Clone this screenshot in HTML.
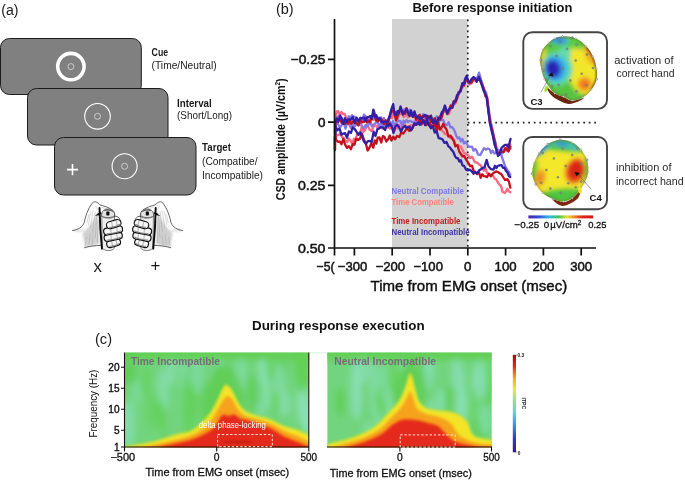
<!DOCTYPE html>
<html><head><meta charset="utf-8"><title>Figure</title>
<style>html,body{margin:0;padding:0;background:#fff;}svg{display:block}</style>
</head><body><svg width="685" height="483" viewBox="0 0 685 483" font-family="Liberation Sans, sans-serif"><defs><filter id="hb" x="-30%" y="-30%" width="160%" height="160%"><feGaussianBlur stdDeviation="9"/></filter></defs>
<g id="hand-left" transform="translate(63.3 195.2) scale(0.128)"><g filter="url(#hb)" opacity="0.7">
<path d="M150 300 C200 250 240 200 270 120 L285 380 C240 400 200 400 170 405Z" fill="#bdbdbd"/>
<ellipse cx="120" cy="275" rx="50" ry="10" fill="#d0d0d0"/>
</g>
<path d="M72 276 C112 272 150 250 163 215 C172 170 190 108 226 62 C240 44 266 50 287 76 C312 84 352 90 384 118 C400 134 406 150 400 168" fill="none" stroke="#3a3a3a" stroke-width="6" stroke-linecap="round"/>
<path d="M166 410 C200 398 250 394 292 392" fill="none" stroke="#3a3a3a" stroke-width="6" stroke-linecap="round"/>
<path d="M200 150 L185 215 M215 130 L196 230 M232 120 L212 250 M248 130 L230 290 M262 150 L250 330 M272 200 L266 370 M210 300 L200 385 M232 310 L226 388 M180 330 L172 395 M252 85 L268 110 M300 95 L340 105" fill="none" stroke="#9a9a9a" stroke-width="3" stroke-linecap="round"/>
<path d="M300 140 L305 415 C330 440 380 438 398 415 L400 150 Z" fill="#efefef" stroke="#3a3a3a" stroke-width="5"/>
<path d="M272 150 L290 140 M283 100 C284 180 290 300 302 418" fill="none" stroke="#0a0a0a" stroke-width="15" stroke-linecap="round"/>
<path d="M255 158 L282 148" fill="none" stroke="#0a0a0a" stroke-width="7" stroke-linecap="round"/>
<path d="M300 150 C300 120 330 105 360 108 C390 112 402 130 400 160 C380 178 330 180 300 165Z" fill="#e2e2e2" stroke="#2a2a2a" stroke-width="5"/>
<path d="M310 170 C340 185 380 184 400 168" fill="none" stroke="#555" stroke-width="5"/>
<rect x="336" y="128" width="24" height="30" rx="5" fill="#0a0a0a"/>
<path d="M322 120 C345 112 372 115 388 128" fill="none" stroke="#111" stroke-width="6"/>
<g transform="rotate(-16 393.0 374.5)"><rect x="338" y="347" width="110" height="55" rx="27.5" ry="27.5" fill="#f6f6f6" stroke="#111" stroke-width="9"/><path d="M382.0 355 L378.7 394 M417.2 355 L415.0 394" stroke="#8a8a8a" stroke-width="4.5"/><path d="M354.5 391 C382.0 397 415.0 397 437.0 389" stroke="#6a6a6a" stroke-width="9" fill="none" opacity="0.75"/></g>
<g transform="rotate(-12 390.0 325.0)"><rect x="318" y="298" width="144" height="54" rx="27.0" ry="27.0" fill="#f6f6f6" stroke="#111" stroke-width="9"/><path d="M375.6 306 L371.28 344 M421.68 306 L418.8 344" stroke="#8a8a8a" stroke-width="4.5"/><path d="M339.6 341 C375.6 347 418.8 347 447.6 339" stroke="#6a6a6a" stroke-width="9" fill="none" opacity="0.75"/></g>
<g transform="rotate(-11 389.0 275.0)"><rect x="314" y="248" width="150" height="54" rx="27.0" ry="27.0" fill="#f6f6f6" stroke="#111" stroke-width="9"/><path d="M374.0 256 L369.5 294 M422.0 256 L419.0 294" stroke="#8a8a8a" stroke-width="4.5"/><path d="M336.5 291 C374.0 297 419.0 297 449.0 289" stroke="#6a6a6a" stroke-width="9" fill="none" opacity="0.75"/></g>
<g transform="rotate(-16 394.0 226.0)"><rect x="336" y="198" width="116" height="56" rx="28.0" ry="28.0" fill="#f6f6f6" stroke="#111" stroke-width="9"/><path d="M382.4 206 L378.92 246 M419.52 206 L417.2 246" stroke="#8a8a8a" stroke-width="4.5"/><path d="M353.4 243 C382.4 249 417.2 249 440.4 241" stroke="#6a6a6a" stroke-width="9" fill="none" opacity="0.75"/></g>
<path d="M400 165 C420 160 440 175 446 200" fill="none" stroke="#222" stroke-width="6" stroke-linecap="round"/></g>
<g id="hand-right" transform="translate(191.9 195.2) scale(-0.128 0.128)"><g filter="url(#hb)" opacity="0.7">
<path d="M150 300 C200 250 240 200 270 120 L285 380 C240 400 200 400 170 405Z" fill="#bdbdbd"/>
<ellipse cx="120" cy="275" rx="50" ry="10" fill="#d0d0d0"/>
</g>
<path d="M72 276 C112 272 150 250 163 215 C172 170 190 108 226 62 C240 44 266 50 287 76 C312 84 352 90 384 118 C400 134 406 150 400 168" fill="none" stroke="#3a3a3a" stroke-width="6" stroke-linecap="round"/>
<path d="M166 410 C200 398 250 394 292 392" fill="none" stroke="#3a3a3a" stroke-width="6" stroke-linecap="round"/>
<path d="M200 150 L185 215 M215 130 L196 230 M232 120 L212 250 M248 130 L230 290 M262 150 L250 330 M272 200 L266 370 M210 300 L200 385 M232 310 L226 388 M180 330 L172 395 M252 85 L268 110 M300 95 L340 105" fill="none" stroke="#9a9a9a" stroke-width="3" stroke-linecap="round"/>
<path d="M300 140 L305 415 C330 440 380 438 398 415 L400 150 Z" fill="#efefef" stroke="#3a3a3a" stroke-width="5"/>
<path d="M272 150 L290 140 M283 100 C284 180 290 300 302 418" fill="none" stroke="#0a0a0a" stroke-width="15" stroke-linecap="round"/>
<path d="M255 158 L282 148" fill="none" stroke="#0a0a0a" stroke-width="7" stroke-linecap="round"/>
<path d="M300 150 C300 120 330 105 360 108 C390 112 402 130 400 160 C380 178 330 180 300 165Z" fill="#e2e2e2" stroke="#2a2a2a" stroke-width="5"/>
<path d="M310 170 C340 185 380 184 400 168" fill="none" stroke="#555" stroke-width="5"/>
<rect x="336" y="128" width="24" height="30" rx="5" fill="#0a0a0a"/>
<path d="M322 120 C345 112 372 115 388 128" fill="none" stroke="#111" stroke-width="6"/>
<g transform="rotate(-16 393.0 374.5)"><rect x="338" y="347" width="110" height="55" rx="27.5" ry="27.5" fill="#f6f6f6" stroke="#111" stroke-width="9"/><path d="M382.0 355 L378.7 394 M417.2 355 L415.0 394" stroke="#8a8a8a" stroke-width="4.5"/><path d="M354.5 391 C382.0 397 415.0 397 437.0 389" stroke="#6a6a6a" stroke-width="9" fill="none" opacity="0.75"/></g>
<g transform="rotate(-12 390.0 325.0)"><rect x="318" y="298" width="144" height="54" rx="27.0" ry="27.0" fill="#f6f6f6" stroke="#111" stroke-width="9"/><path d="M375.6 306 L371.28 344 M421.68 306 L418.8 344" stroke="#8a8a8a" stroke-width="4.5"/><path d="M339.6 341 C375.6 347 418.8 347 447.6 339" stroke="#6a6a6a" stroke-width="9" fill="none" opacity="0.75"/></g>
<g transform="rotate(-11 389.0 275.0)"><rect x="314" y="248" width="150" height="54" rx="27.0" ry="27.0" fill="#f6f6f6" stroke="#111" stroke-width="9"/><path d="M374.0 256 L369.5 294 M422.0 256 L419.0 294" stroke="#8a8a8a" stroke-width="4.5"/><path d="M336.5 291 C374.0 297 419.0 297 449.0 289" stroke="#6a6a6a" stroke-width="9" fill="none" opacity="0.75"/></g>
<g transform="rotate(-16 394.0 226.0)"><rect x="336" y="198" width="116" height="56" rx="28.0" ry="28.0" fill="#f6f6f6" stroke="#111" stroke-width="9"/><path d="M382.4 206 L378.92 246 M419.52 206 L417.2 246" stroke="#8a8a8a" stroke-width="4.5"/><path d="M353.4 243 C382.4 249 417.2 249 440.4 241" stroke="#6a6a6a" stroke-width="9" fill="none" opacity="0.75"/></g>
<path d="M400 165 C420 160 440 175 446 200" fill="none" stroke="#222" stroke-width="6" stroke-linecap="round"/></g>
<g id="panel-a">
<text x="1.2" y="14.8" font-size="14" font-weight="normal" fill="#1a1a1a" text-anchor="start" textLength="17.3" lengthAdjust="spacingAndGlyphs" >(a)</text>
<rect x="0.5" y="38.5" width="140.8" height="56" rx="9" ry="9" fill="#808080" stroke="#1c1c1c" stroke-width="1"/>
<rect x="27.5" y="88.5" width="140.5" height="56.5" rx="9" ry="9" fill="#808080" stroke="#1c1c1c" stroke-width="1"/>
<rect x="54.5" y="137.5" width="141.5" height="57.5" rx="9" ry="9" fill="#808080" stroke="#1c1c1c" stroke-width="1"/>
<circle cx="70.9" cy="66.6" r="13.2" fill="none" stroke="#fff" stroke-width="3.6"/>
<circle cx="70.9" cy="66.6" r="3" fill="none" stroke="#e8e8e8" stroke-width="0.7"/>
<circle cx="97.5" cy="116.3" r="12.8" fill="none" stroke="#fff" stroke-width="1.1"/>
<circle cx="97.5" cy="116.3" r="3" fill="none" stroke="#e8e8e8" stroke-width="0.7"/>
<circle cx="124.6" cy="166.3" r="12.5" fill="none" stroke="#fff" stroke-width="1.1"/>
<circle cx="124.6" cy="166.3" r="3" fill="none" stroke="#e8e8e8" stroke-width="0.7"/>
<path d="M67 169.6H78M72.5 164V175.2" stroke="#fff" stroke-width="1.6" fill="none"/>
<text x="151.6" y="56" font-size="10.5" font-weight="bold" fill="#1a1a1a" text-anchor="start" textLength="16.5" lengthAdjust="spacingAndGlyphs" >Cue</text>
<text x="151.6" y="68.7" font-size="10.3" font-weight="normal" fill="#222" text-anchor="start" textLength="65" lengthAdjust="spacingAndGlyphs" >(Time/Neutral)</text>
<text x="177" y="106.5" font-size="10.5" font-weight="bold" fill="#1a1a1a" text-anchor="start" textLength="34.7" lengthAdjust="spacingAndGlyphs" >Interval</text>
<text x="177" y="119.2" font-size="10.3" font-weight="normal" fill="#222" text-anchor="start" textLength="55" lengthAdjust="spacingAndGlyphs" >(Short/Long)</text>
<text x="202" y="151.2" font-size="10.5" font-weight="bold" fill="#1a1a1a" text-anchor="start" textLength="29" lengthAdjust="spacingAndGlyphs" >Target</text>
<text x="202" y="164.6" font-size="10.3" font-weight="normal" fill="#222" text-anchor="start" textLength="55.6" lengthAdjust="spacingAndGlyphs" >(Compatibe/</text>
<text x="202" y="178.5" font-size="10.3" font-weight="normal" fill="#222" text-anchor="start" textLength="61" lengthAdjust="spacingAndGlyphs" >Incompatible)</text>
<text x="93.4" y="271.9" font-size="17.3" font-weight="normal" fill="#1a1a1a" text-anchor="start" textLength="8.4" lengthAdjust="spacingAndGlyphs" >x</text>
<text x="150.4" y="271.3" font-size="17" font-weight="normal" fill="#1a1a1a" text-anchor="start" textLength="9.9" lengthAdjust="spacingAndGlyphs" >+</text>
</g>
<g id="panel-b">
<text x="276" y="14.3" font-size="14" font-weight="normal" fill="#1a1a1a" text-anchor="start" textLength="17.7" lengthAdjust="spacingAndGlyphs" >(b)</text>
<text x="412.4" y="12.3" font-size="12.3" font-weight="bold" fill="#111" text-anchor="start" textLength="160" lengthAdjust="spacingAndGlyphs" >Before response initiation</text>
<rect x="392" y="19" width="75.7" height="229" fill="#d2d2d2"/>
<path d="M467.8 19.5V248" stroke="#222" stroke-width="1.7" stroke-dasharray="1.7 3.8" fill="none"/>
<path d="M467.8 122.6H596" stroke="#222" stroke-width="1.7" stroke-dasharray="1.7 3.8" fill="none"/>
<g fill="none" stroke-width="2.3" stroke-linejoin="round" stroke-linecap="round">
<path d="M335.0 140.9 L336.8 135.0 L338.5 135.2 L340.2 133.5 L342.0 137.3 L343.7 137.8 L345.4 140.6 L347.1 142.2 L348.8 138.5 L350.5 140.4 L352.2 144.2 L353.9 138.7 L355.6 140.5 L357.3 133.1 L358.8 134.6 L360.4 132.4 L361.9 125.8 L363.5 131.8 L365.1 130.2 L366.6 124.9 L368.2 126.5 L369.8 129.9 L371.7 131.1 L373.6 126.1 L375.5 125.3 L377.3 127.3 L379.2 124.8 L381.0 127.4 L382.5 128.5 L384.0 128.8 L385.5 127.1 L387.0 127.6 L388.5 127.2 L390.0 128.6 L391.5 126.8 L393.0 125.1 L394.5 130.8 L396.0 127.1 L397.5 128.3 L399.0 124.6 L400.5 130.4 L402.0 127.5 L403.5 122.6 L405.0 124.6 L406.5 126.9 L408.0 126.5 L409.5 128.5 L411.0 124.8 L412.8 127.5 L414.5 124.5 L416.2 121.5 L418.0 123.0 L419.8 124.1 L421.5 123.3 L423.2 120.8 L425.0 121.7 L426.5 118.2 L428.0 121.1 L429.5 124.8 L431.0 121.9 L432.9 122.1 L434.8 125.8 L436.7 127.2 L438.4 128.4 L440.0 128.2 L441.7 130.3 L443.3 131.7 L445.0 134.2 L446.8 134.4 L448.7 135.8 L450.5 138.0 L452.0 137.2 L453.5 139.1 L455.0 143.3 L456.4 145.3 L457.9 145.0 L459.3 146.1 L460.9 146.7 L462.4 149.9 L464.0 153.0 L466.1 153.9 L468.1 155.4 L470.1 158.1 L472.0 156.6 L473.6 159.8 L475.2 162.4 L477.1 162.5 L479.0 164.4 L480.6 165.2 L482.2 168.1 L483.8 170.7 L485.4 167.8 L487.0 173.2 L488.9 173.4 L490.8 175.0 L492.7 175.4 L494.6 178.5 L496.5 179.8 L498.1 182.9 L499.8 184.9 L501.1 186.0 L502.5 191.9 L505.0 193.0 L507.5 188.8 L508.9 191.5 L510.3 192.3" stroke="#ff6680"/>
<path d="M335.0 128.2 L335.5 118.1 L336.8 111.3 L338.3 111.1 L339.9 114.9 L341.4 111.9 L343.1 114.2 L344.8 114.0 L346.4 118.4 L348.0 119.5 L350.0 120.4 L352.0 118.6 L353.5 120.9 L355.0 119.7 L356.5 122.0 L358.0 122.9 L359.5 122.6 L361.0 120.2 L362.5 120.4 L364.0 119.5 L365.5 117.5 L367.0 117.0 L368.5 119.1 L370.0 116.7 L371.7 117.2 L373.3 120.1 L375.0 116.5 L376.7 118.9 L378.3 117.7 L380.0 118.2 L381.5 120.5 L383.0 118.7 L384.5 121.7 L386.0 124.2 L388.0 119.9 L390.0 115.7 L391.8 118.2 L393.5 113.2 L396.0 119.3 L397.5 118.4 L399.0 115.2 L400.5 113.7 L402.0 111.3 L403.5 117.0 L405.0 116.2 L406.5 111.6 L408.0 117.4 L409.5 116.4 L411.0 115.5 L412.8 116.8 L414.5 116.9 L416.2 120.4 L418.0 117.3 L419.8 120.7 L421.5 116.9 L423.2 121.8 L425.0 121.0 L426.5 118.5 L428.0 120.1 L429.5 122.4 L431.0 120.8 L432.9 120.4 L434.8 119.5 L436.7 121.3 L438.4 122.5 L440.0 118.1 L441.6 118.6 L443.3 111.1 L444.9 111.2 L447.3 113.6 L449.0 114.1 L450.7 108.8 L452.3 106.6 L453.8 104.9 L455.4 103.6 L457.0 98.7 L458.6 93.1 L460.5 89.4 L462.4 87.3 L463.8 86.2 L465.3 81.8 L466.7 77.1 L468.4 83.4 L470.0 84.4 L471.8 83.0 L473.5 77.4 L475.0 80.9 L476.5 77.9 L479.0 79.1 L480.5 79.8 L482.0 83.2 L484.5 91.7 L486.1 92.5 L487.6 99.6 L489.1 111.8 L490.5 120.7 L492.1 128.7 L493.8 138.7 L495.3 142.3 L496.8 150.1 L499.0 153.9 L500.5 154.0 L502.0 150.7 L503.5 152.0 L505.0 148.1 L506.5 150.8 L508.0 144.5 L510.5 144.5" stroke="#ff6680"/>
<path d="M335.0 129.9 L335.7 123.5 L337.5 123.4 L339.2 126.1 L341.0 126.6 L342.5 122.8 L344.0 123.3 L345.5 128.7 L347.0 123.3 L348.9 123.8 L350.9 127.9 L352.8 122.4 L354.7 126.4 L356.6 123.4 L358.5 125.7 L360.3 122.4 L362.2 127.1 L364.0 128.1 L365.5 125.0 L367.0 126.5 L368.5 124.9 L370.0 120.4 L371.8 126.4 L373.7 124.2 L375.5 123.2 L377.4 121.3 L379.3 127.0 L381.2 122.5 L383.1 125.4 L385.1 126.0 L387.0 124.9 L388.5 126.1 L390.0 121.6 L391.5 124.9 L393.0 121.0 L394.5 125.5 L396.0 124.3 L397.5 119.6 L399.0 121.3 L400.5 121.1 L402.0 125.8 L403.5 120.6 L405.0 122.7 L406.5 120.0 L408.0 122.2 L409.5 121.0 L411.0 121.2 L412.8 122.3 L414.5 121.4 L416.2 123.2 L418.0 120.6 L419.8 122.5 L421.5 121.2 L423.2 122.2 L425.0 119.4 L426.5 116.6 L428.0 122.1 L429.5 121.4 L431.0 121.2 L432.9 118.8 L434.8 120.1 L436.7 116.2 L438.4 122.2 L440.0 119.9 L441.7 120.2 L443.3 120.1 L445.0 124.5 L446.8 125.2 L448.7 122.3 L450.5 127.4 L452.0 127.0 L453.5 128.8 L455.0 131.9 L456.4 136.2 L457.9 138.5 L459.3 137.3 L460.9 141.5 L462.4 138.9 L464.0 143.5 L466.1 141.9 L468.1 146.0 L470.1 146.9 L472.0 146.7 L473.6 150.7 L475.2 148.9 L476.6 150.7 L478.0 154.7 L480.4 155.1 L482.2 151.3 L484.0 148.2 L486.0 149.7 L488.0 148.5 L489.6 149.2 L491.1 153.1 L492.7 150.7 L494.6 153.6 L496.5 152.1 L498.1 149.8 L499.8 150.2 L501.1 154.2 L502.5 158.6 L505.0 166.2 L507.5 170.2 L508.9 171.9 L510.3 174.7" stroke="#8478e6"/>
<path d="M335.0 126.9 L335.5 118.9 L337.0 117.9 L338.5 116.0 L340.0 115.4 L341.8 118.0 L343.5 121.3 L345.2 120.0 L347.0 120.5 L348.7 116.1 L350.3 118.5 L352.0 115.3 L353.5 116.2 L355.0 116.8 L356.5 118.6 L358.0 124.3 L359.5 121.4 L361.0 120.7 L362.5 119.6 L364.0 114.5 L365.5 116.3 L367.0 118.0 L368.5 118.3 L370.0 119.1 L372.0 117.6 L374.0 110.7 L376.0 117.6 L378.0 118.8 L379.5 118.6 L381.0 117.3 L382.5 120.6 L384.0 118.1 L385.7 123.7 L387.3 120.6 L389.0 117.9 L391.1 112.2 L393.2 112.1 L394.6 112.2 L396.0 118.7 L397.5 115.4 L399.0 111.0 L400.5 108.5 L402.0 110.5 L403.5 109.7 L405.0 108.9 L406.5 111.0 L408.0 114.8 L409.5 109.6 L411.0 111.8 L412.8 115.9 L414.5 113.2 L416.2 116.2 L418.0 115.6 L419.8 115.4 L421.5 120.4 L423.2 114.1 L425.0 117.7 L426.5 115.6 L428.0 119.2 L429.5 116.0 L431.0 117.5 L432.9 120.8 L434.8 118.3 L436.7 121.8 L438.4 122.3 L440.0 116.1 L441.6 113.7 L443.3 110.6 L444.9 109.4 L447.3 114.2 L449.0 109.6 L450.7 107.1 L452.3 104.4 L453.8 104.0 L455.4 100.0 L457.0 98.9 L458.6 94.4 L460.5 91.2 L462.4 86.6 L463.8 85.4 L465.3 78.4 L466.7 78.2 L468.4 82.9 L470.0 83.6 L471.8 80.0 L473.5 79.9 L475.0 78.5 L476.5 80.3 L479.0 72.6 L481.5 81.1 L484.0 89.0 L485.5 92.0 L487.0 97.9 L488.6 111.4 L490.2 119.9 L491.9 126.8 L493.5 134.6 L495.0 140.5 L496.5 148.4 L498.5 151.1 L500.0 150.9 L501.5 149.5 L503.0 152.8 L504.5 149.1 L507.0 150.1 L508.8 149.0 L510.5 148.6" stroke="#8478e6"/>
<path d="M335.0 150.0 L334.8 137.1 L336.4 140.2 L338.1 141.9 L339.8 141.5 L341.4 144.3 L343.3 138.9 L345.1 144.6 L347.0 147.8 L348.9 146.1 L350.9 149.2 L352.8 144.1 L354.5 144.6 L356.2 138.6 L358.1 140.1 L360.0 138.5 L361.9 133.6 L363.8 139.4 L365.7 142.7 L367.6 150.5 L369.5 147.6 L371.4 143.2 L373.3 147.7 L374.8 140.4 L376.3 143.6 L377.8 137.6 L379.5 137.3 L381.2 142.6 L382.9 136.1 L384.6 137.1 L386.3 141.6 L388.1 139.3 L389.8 135.5 L391.5 140.6 L393.3 136.8 L395.2 139.2 L397.0 135.9 L399.3 137.1 L401.3 132.4 L403.2 133.6 L405.2 130.9 L407.1 128.3 L409.1 130.8 L411.0 130.2 L412.5 127.8 L414.0 124.5 L416.0 124.3 L418.0 123.9 L419.8 119.2 L421.5 124.6 L423.2 120.6 L425.0 121.1 L426.5 125.1 L428.0 122.8 L429.5 123.2 L431.0 125.1 L432.9 127.3 L434.8 123.4 L436.7 131.8 L438.4 123.2 L440.0 129.5 L441.6 127.6 L443.3 123.7 L444.9 127.3 L446.6 129.6 L448.4 136.5 L450.5 135.6 L452.1 138.5 L453.8 140.9 L455.4 146.3 L457.4 145.2 L459.3 151.8 L460.9 154.0 L462.4 156.3 L464.0 155.9 L466.1 159.4 L468.1 162.7 L470.1 166.1 L472.0 165.7 L473.6 170.9 L475.2 172.1 L477.1 174.1 L479.0 172.3 L480.6 177.8 L482.2 174.3 L483.8 176.1 L485.4 176.3 L487.0 177.1 L488.9 173.9 L490.8 176.4 L492.7 173.6 L494.6 172.3 L496.5 171.4 L498.1 172.3 L499.8 173.4 L501.1 173.8 L502.5 176.0 L505.0 180.0 L507.5 179.2 L508.9 181.8 L510.3 187.6" stroke="#c4101c"/>
<path d="M335.0 150.1 L335.4 122.1 L336.9 121.5 L338.5 119.7 L340.0 118.0 L341.7 123.2 L343.3 121.0 L345.0 123.9 L346.6 120.5 L348.1 123.8 L349.7 119.3 L351.2 123.8 L352.8 121.9 L354.7 121.2 L356.6 123.5 L358.5 125.1 L360.3 120.3 L362.2 122.3 L364.0 121.8 L365.5 117.9 L367.0 122.6 L368.5 120.6 L370.0 122.2 L372.0 116.3 L374.0 113.6 L376.0 120.6 L378.0 121.4 L379.5 120.0 L381.0 118.9 L382.5 120.8 L384.0 124.3 L385.7 120.3 L387.3 124.5 L389.0 119.7 L391.1 112.5 L393.2 110.5 L394.6 111.7 L396.0 120.3 L397.5 116.3 L399.0 111.3 L400.5 110.1 L402.0 110.7 L403.5 112.1 L405.0 113.8 L406.5 108.1 L408.0 113.0 L409.5 114.7 L411.0 113.5 L412.8 116.5 L414.5 113.0 L416.2 119.8 L418.0 116.3 L419.8 114.8 L421.5 119.2 L423.2 116.0 L425.0 116.4 L426.5 118.5 L428.0 116.0 L429.5 117.4 L431.0 121.8 L432.9 121.0 L434.8 118.2 L436.7 125.8 L438.4 117.3 L440.0 119.8 L441.6 117.2 L443.3 111.6 L444.9 106.6 L447.3 113.7 L449.0 110.1 L450.7 105.5 L452.3 107.9 L453.8 101.1 L455.4 102.3 L457.0 98.5 L458.6 92.3 L460.5 91.5 L462.4 83.8 L463.8 85.5 L465.3 81.6 L466.7 78.5 L468.4 82.3 L470.0 82.9 L471.8 82.2 L473.5 78.8 L475.2 78.9 L477.0 79.9 L479.5 78.8 L481.5 83.4 L484.0 89.5 L485.5 96.4 L487.0 97.7 L488.5 111.0 L490.0 123.5 L491.6 128.1 L493.3 135.5 L494.8 141.9 L496.3 149.6 L498.3 154.3 L499.9 152.7 L501.5 152.0 L504.0 151.7 L505.4 148.1 L506.8 149.0 L508.5 151.5 L510.5 146.6" stroke="#c4101c"/>
<path d="M335.0 139.9 L335.7 126.9 L337.6 130.3 L339.5 128.3 L341.4 134.7 L343.3 133.6 L345.1 133.2 L347.0 137.7 L348.9 131.4 L350.9 132.9 L352.8 127.3 L354.7 129.0 L356.6 131.8 L358.5 134.8 L360.3 132.1 L362.2 136.8 L364.0 141.6 L365.9 143.7 L367.9 141.1 L369.8 141.0 L371.7 142.1 L373.6 131.7 L375.5 136.0 L377.4 129.1 L379.3 128.4 L381.2 126.9 L383.1 127.6 L385.1 130.0 L387.0 124.2 L388.5 126.2 L390.0 123.6 L391.8 126.7 L393.5 133.0 L395.2 126.6 L397.0 124.8 L399.0 127.1 L401.0 131.6 L403.0 127.6 L405.0 126.0 L406.5 128.1 L408.0 127.0 L409.5 126.5 L411.0 130.3 L412.8 127.4 L414.5 123.3 L416.2 124.9 L418.0 122.4 L419.8 124.8 L421.5 122.9 L423.2 120.1 L425.0 125.2 L427.0 119.6 L428.9 125.2 L430.9 128.2 L432.8 126.4 L434.8 132.6 L436.7 131.4 L438.7 138.2 L440.6 138.5 L442.6 139.6 L444.5 142.9 L446.5 142.0 L448.4 146.4 L450.1 147.7 L451.9 150.3 L453.4 152.0 L455.0 156.1 L456.4 158.1 L457.9 158.1 L459.3 161.5 L460.9 160.2 L462.4 165.3 L464.0 165.8 L466.1 169.6 L468.1 170.4 L470.1 169.7 L472.0 171.8 L473.6 173.7 L475.2 171.8 L477.1 173.3 L479.0 170.6 L480.6 169.6 L482.2 168.0 L484.5 167.4 L486.6 159.8 L488.5 166.5 L491.0 169.2 L493.5 169.6 L494.9 165.8 L496.3 168.0 L497.6 166.0 L499.0 165.5 L501.5 165.1 L503.0 167.8 L504.5 167.8 L506.0 171.0 L507.5 172.4 L508.9 176.0 L510.3 177.1" stroke="#3020a6"/>
<path d="M335.0 133.9 L335.3 122.2 L336.9 118.4 L338.4 122.0 L340.0 115.7 L341.7 118.8 L343.3 123.9 L345.0 118.1 L346.6 122.3 L348.1 119.5 L349.7 119.7 L351.2 119.4 L352.8 116.9 L354.7 122.9 L356.6 117.7 L358.5 121.4 L360.3 117.8 L362.2 118.6 L364.0 117.6 L365.7 121.2 L367.3 117.1 L369.0 116.8 L370.4 116.1 L371.9 118.9 L373.3 109.6 L374.8 116.8 L376.3 115.2 L377.8 119.4 L379.7 117.9 L381.6 122.3 L383.5 121.6 L385.4 121.8 L387.3 121.8 L389.2 117.9 L391.2 109.8 L393.2 104.1 L394.6 114.9 L396.0 115.0 L397.5 111.1 L399.0 113.3 L400.5 106.4 L402.8 114.6 L405.2 111.2 L406.6 109.0 L408.0 112.5 L409.5 115.9 L411.0 110.3 L412.8 116.7 L414.5 111.4 L416.2 117.5 L418.0 116.8 L419.8 119.1 L421.5 118.1 L423.2 116.4 L425.0 115.0 L426.5 115.5 L428.0 118.4 L429.5 118.0 L431.0 115.6 L432.9 123.3 L434.8 120.4 L436.7 124.1 L438.4 118.5 L440.0 118.4 L441.6 112.8 L443.3 110.5 L444.9 105.5 L447.3 113.4 L449.0 109.5 L450.7 108.1 L452.4 107.3 L453.9 101.7 L455.4 101.0 L457.0 95.2 L458.6 93.4 L460.5 90.5 L462.4 83.2 L463.8 84.1 L465.3 78.7 L466.7 75.7 L468.4 81.6 L470.0 81.5 L471.8 78.7 L473.5 77.0 L475.0 78.4 L476.5 81.9 L479.0 76.8 L481.0 82.7 L483.5 90.4 L485.1 93.3 L486.6 97.1 L488.1 109.1 L489.7 121.2 L491.4 130.1 L493.0 136.3 L494.5 144.4 L496.0 148.7 L498.0 155.9 L499.8 154.2 L501.5 147.8 L504.0 145.6 L505.4 144.9 L506.8 144.8 L508.5 147.3 L510.5 138.9" stroke="#3020a6"/>
</g>
<path d="M334.5 19V255.5M328 248H596" stroke="#111" stroke-width="1.7" fill="none"/>
<path d="M328 59.4H334.5M328 122.2H334.5M328 185.3H334.5M354.4 248V255.5M392.2 248V255.5M430 248V255.5M467.8 248V255.5M505.6 248V255.5M543.4 248V255.5M581.2 248V255.5" stroke="#111" stroke-width="1.7" fill="none"/>
<text x="325.4" y="64.1" font-size="13.3" font-weight="normal" fill="#111" text-anchor="end" textLength="34.7" lengthAdjust="spacingAndGlyphs" stroke="#111" stroke-width="0.5">−0.25</text>
<text x="325.4" y="126.9" font-size="13.3" font-weight="normal" fill="#111" text-anchor="end" textLength="7.5" lengthAdjust="spacingAndGlyphs" stroke="#111" stroke-width="0.5">0</text>
<text x="325.4" y="190.0" font-size="13.3" font-weight="normal" fill="#111" text-anchor="end" textLength="27.5" lengthAdjust="spacingAndGlyphs" stroke="#111" stroke-width="0.5">0.25</text>
<text x="325.4" y="253.0" font-size="13.3" font-weight="normal" fill="#111" text-anchor="end" textLength="27.5" lengthAdjust="spacingAndGlyphs" stroke="#111" stroke-width="0.5">0.50</text>
<text x="316.5" y="270.8" font-size="13.3" font-weight="normal" fill="#111" text-anchor="start" textLength="18" lengthAdjust="spacingAndGlyphs" stroke="#111" stroke-width="0.5">−5(</text>
<text x="352.59999999999997" y="270.8" font-size="13.3" font-weight="normal" fill="#111" text-anchor="middle" textLength="29.5" lengthAdjust="spacingAndGlyphs" stroke="#111" stroke-width="0.5">−300</text>
<text x="390.4" y="270.8" font-size="13.3" font-weight="normal" fill="#111" text-anchor="middle" textLength="29.5" lengthAdjust="spacingAndGlyphs" stroke="#111" stroke-width="0.5">−200</text>
<text x="428.2" y="270.8" font-size="13.3" font-weight="normal" fill="#111" text-anchor="middle" textLength="29.5" lengthAdjust="spacingAndGlyphs" stroke="#111" stroke-width="0.5">−100</text>
<text x="467.8" y="270.8" font-size="13.3" font-weight="normal" fill="#111" text-anchor="middle" textLength="7.4" lengthAdjust="spacingAndGlyphs" stroke="#111" stroke-width="0.5">0</text>
<text x="505.6" y="270.8" font-size="13.3" font-weight="normal" fill="#111" text-anchor="middle" textLength="22" lengthAdjust="spacingAndGlyphs" stroke="#111" stroke-width="0.5">100</text>
<text x="543.4" y="270.8" font-size="13.3" font-weight="normal" fill="#111" text-anchor="middle" textLength="22" lengthAdjust="spacingAndGlyphs" stroke="#111" stroke-width="0.5">200</text>
<text x="581.2" y="270.8" font-size="13.3" font-weight="normal" fill="#111" text-anchor="middle" textLength="22" lengthAdjust="spacingAndGlyphs" stroke="#111" stroke-width="0.5">300</text>
<text x="370.6" y="290.9" font-size="15.2" font-weight="normal" fill="#111" text-anchor="start" textLength="196.6" lengthAdjust="spacingAndGlyphs" stroke="#111" stroke-width="0.45">Time from EMG onset (msec)</text>
<text transform="translate(284.6 139.3) rotate(-90)" font-size="12.6" font-weight="bold" fill="#111" text-anchor="middle" textLength="122" lengthAdjust="spacingAndGlyphs">CSD amplitude (µV/cm<tspan font-size="7.6" dy="-4.4">2</tspan><tspan dy="4.4">)</tspan></text>
<text x="391.5" y="193.6" font-size="9.3" font-weight="bold" fill="#7d78dc" text-anchor="start" textLength="72.3" lengthAdjust="spacingAndGlyphs" >Neutral Compatible</text>
<text x="391.5" y="204.6" font-size="9.3" font-weight="bold" fill="#ff8178" text-anchor="start" textLength="62.3" lengthAdjust="spacingAndGlyphs" >Time Compatible</text>
<text x="391.5" y="224" font-size="9.3" font-weight="bold" fill="#c01a1a" text-anchor="start" textLength="69" lengthAdjust="spacingAndGlyphs" >Time Incompatible</text>
<text x="391.5" y="235" font-size="9.3" font-weight="bold" fill="#3c34a4" text-anchor="start" textLength="78.2" lengthAdjust="spacingAndGlyphs" >Neutral Incompatible</text>
</g>
<defs>
<filter id="b3" x="-30%" y="-30%" width="160%" height="160%"><feGaussianBlur stdDeviation="3"/></filter>
<filter id="b2" x="-30%" y="-30%" width="160%" height="160%"><feGaussianBlur stdDeviation="2"/></filter>
<filter id="b1" x="-30%" y="-30%" width="160%" height="160%"><feGaussianBlur stdDeviation="1.1"/></filter>
<clipPath id="h1"><path d="M562.6 36.6 C566.1 36.6 571.7 36.8 575.7 38.4 C579.6 40.0 583.2 43.1 586.1 46.2 C589.0 49.2 591.3 52.9 593.0 56.6 C594.8 60.4 595.9 65.0 596.5 68.8 C597.1 72.6 597.4 75.8 596.5 79.2 C595.7 82.7 593.6 86.6 591.3 89.7 C589.0 92.7 585.8 95.7 582.6 97.5 C579.4 99.3 575.4 100.6 572.2 100.5 C569.0 100.3 566.4 97.8 563.5 96.6 C560.6 95.5 557.2 95.2 554.8 93.5 C552.3 91.8 550.4 88.9 548.7 86.5 C547.0 84.2 545.5 81.9 544.3 79.2 C543.2 76.6 542.5 73.7 541.7 70.5 C541.0 67.4 539.9 63.6 540.0 60.1 C540.1 56.6 541.2 52.6 542.6 49.7 C544.1 46.8 546.7 44.6 548.7 42.7 C550.7 40.8 552.5 39.4 554.8 38.4 C557.1 37.4 559.1 36.6 562.6 36.6Z"/></clipPath>
<clipPath id="h2"><path d="M560.0 139.8 C564.1 139.5 568.7 140.8 572.2 142.4 C575.7 144.0 578.4 146.5 580.9 149.4 C583.3 152.3 585.7 156.1 587.0 159.8 C588.2 163.6 588.6 168.2 588.2 172.0 C587.8 175.8 586.2 179.2 584.7 182.4 C583.2 185.6 581.2 188.5 579.1 191.1 C577.0 193.7 574.8 196.3 572.2 198.1 C569.6 199.8 566.7 201.4 563.5 201.6 C560.3 201.7 556.5 200.4 553.0 199.0 C549.6 197.5 545.5 195.3 542.6 192.9 C539.7 190.4 537.4 187.4 535.7 184.2 C533.9 181.0 532.5 177.2 532.2 173.7 C531.9 170.3 532.8 166.8 533.9 163.3 C535.1 159.8 536.8 156.1 539.1 152.9 C541.4 149.7 544.3 146.3 547.8 144.2 C551.3 142.0 555.9 140.1 560.0 139.8Z"/></clipPath>
<linearGradient id="cb" x1="0" x2="1" y1="0" y2="0"><stop offset="0" stop-color="#4a28a8"/><stop offset="0.15" stop-color="#3048d8"/><stop offset="0.32" stop-color="#30b8e8"/><stop offset="0.47" stop-color="#40c850"/><stop offset="0.6" stop-color="#e8e030"/><stop offset="0.72" stop-color="#f08020"/><stop offset="0.83" stop-color="#e02818"/><stop offset="1" stop-color="#d01818"/></linearGradient>
<linearGradient id="cbv" x1="0" x2="0" y1="1" y2="0"><stop offset="0" stop-color="#3a1a9a"/><stop offset="0.14" stop-color="#3038d0"/><stop offset="0.3" stop-color="#38a0e8"/><stop offset="0.42" stop-color="#60d8d0"/><stop offset="0.54" stop-color="#98e088"/><stop offset="0.65" stop-color="#ece83c"/><stop offset="0.76" stop-color="#f8a820"/><stop offset="0.88" stop-color="#e42c18"/><stop offset="1" stop-color="#9c0e0e"/></linearGradient>
</defs>
<g id="topo">
<rect x="523.3" y="32.3" width="83.7" height="76.6" rx="9" ry="9" fill="#fff" stroke="#454545" stroke-width="1.9"/>
<rect x="523.3" y="137" width="83.7" height="72.3" rx="9" ry="9" fill="#fff" stroke="#454545" stroke-width="1.9"/>
<path d="M546.1 87.1 C546.7 86.8 551.9 91.8 554.8 93.5 C557.7 95.1 560.6 95.8 563.5 97.0 C566.4 98.2 568.8 100.6 572.2 100.8 C575.5 101.0 582.5 97.9 583.5 98.0 C584.5 98.1 580.7 100.5 578.3 101.5 C575.8 102.5 571.7 104.0 568.7 103.9 C565.7 103.8 562.9 102.4 560.0 101.0 C557.1 99.5 553.6 97.6 551.3 95.2 C549.0 92.9 545.5 87.4 546.1 87.1Z" fill="#6a2410"/>
<g clip-path="url(#h1)">
<rect x="535" y="30" width="70" height="80" fill="#58c848"/>
<g filter="url(#b2)">
<ellipse cx="583.0" cy="69.7" rx="16.0" ry="26.1" fill="#f2e62a" opacity="1" transform="rotate(-12 583.0 69.7)"/>
<ellipse cx="572.2" cy="57.5" rx="7.0" ry="7.0" fill="#f2e62a" opacity="1" transform="rotate(-12 572.2 57.5)"/>
<ellipse cx="562.6" cy="89.7" rx="13.9" ry="7.3" fill="#54c440" opacity="1" transform="rotate(18 562.6 89.7)"/>
<ellipse cx="572.2" cy="41.3" rx="22.6" ry="6.6" fill="#5ccc44" opacity="1" transform="rotate(12 572.2 41.3)"/>
<ellipse cx="559.7" cy="40.6" rx="9.0" ry="4.2" fill="#38b0e4" opacity="1" transform="rotate(5 559.7 40.6)"/>
<ellipse cx="560.0" cy="39.6" rx="4.3" ry="2.1" fill="#3070e0" opacity="1" transform="rotate(5 560.0 39.6)"/>
<ellipse cx="590.4" cy="54.9" rx="4.9" ry="10.8" fill="#f0a828" opacity="1" transform="rotate(-22 590.4 54.9)"/>
<circle cx="584.7" cy="84.1" r="7.0" fill="#f08a22" opacity="1"/>
<circle cx="585.2" cy="84.8" r="3.5" fill="#f07020" opacity="1"/>
<ellipse cx="543.0" cy="54.9" rx="2.8" ry="7.8" fill="#e8dc30" opacity="1" transform="rotate(18 543.0 54.9)"/>
<ellipse cx="540.9" cy="64.5" rx="1.7" ry="6.3" fill="#f0a030" opacity="1" transform="rotate(5 540.9 64.5)"/>
<ellipse cx="563.5" cy="54.9" rx="7.0" ry="8.7" fill="#60d8b0" opacity="1" transform="rotate(30 563.5 54.9)"/>
<ellipse cx="557.4" cy="68.5" rx="15.3" ry="17.0" fill="#70dc90" opacity="1" transform="rotate(-10 557.4 68.5)"/>
<ellipse cx="556.9" cy="68.5" rx="13.2" ry="15.0" fill="#48d0d0" opacity="1" transform="rotate(-10 556.9 68.5)"/>
<ellipse cx="554.8" cy="68.5" rx="10.4" ry="12.2" fill="#38a0e8" opacity="1" transform="rotate(-12 554.8 68.5)"/>
<ellipse cx="553.0" cy="68.8" rx="7.7" ry="9.0" fill="#2a30c4" opacity="1" transform="rotate(-15 553.0 68.8)"/>
<ellipse cx="552.3" cy="69.1" rx="5.2" ry="6.6" fill="#2a20b0" opacity="1" transform="rotate(-15 552.3 69.1)"/>
</g>
<path d="M562.6 36.6 C566.1 36.6 571.7 36.8 575.7 38.4 C579.6 40.0 583.2 43.1 586.1 46.2 C589.0 49.2 591.3 52.9 593.0 56.6 C594.8 60.4 595.9 65.0 596.5 68.8 C597.1 72.6 597.4 75.8 596.5 79.2 C595.7 82.7 593.6 86.6 591.3 89.7 C589.0 92.7 585.8 95.7 582.6 97.5 C579.4 99.3 575.4 100.6 572.2 100.5 C569.0 100.3 566.4 97.8 563.5 96.6 C560.6 95.5 557.2 95.2 554.8 93.5 C552.3 91.8 550.4 88.9 548.7 86.5 C547.0 84.2 545.5 81.9 544.3 79.2 C543.2 76.6 542.5 73.7 541.7 70.5 C541.0 67.4 539.9 63.6 540.0 60.1 C540.1 56.6 541.2 52.6 542.6 49.7 C544.1 46.8 546.7 44.6 548.7 42.7 C550.7 40.8 552.5 39.4 554.8 38.4 C557.1 37.4 559.1 36.6 562.6 36.6Z" fill="none" stroke="#7a3a18" stroke-width="1.6" opacity="0.5" filter="url(#b1)"/>
<path d="M587.0 47.1 L593.9 56.6 L597.4 68.8 L597.4 79.2 L592.2 90.0" fill="none" stroke="#7a2a14" stroke-width="2.2" opacity="0.8" filter="url(#b1)"/>
</g>
<circle cx="560.0" cy="41.8" r="1" fill="#8a9a8a" stroke="#555" stroke-width="0.35"/>
<circle cx="567.0" cy="48.8" r="1" fill="#8a9a8a" stroke="#555" stroke-width="0.35"/>
<circle cx="576.5" cy="44.5" r="1" fill="#8a9a8a" stroke="#555" stroke-width="0.35"/>
<circle cx="556.5" cy="55.8" r="1" fill="#8a9a8a" stroke="#555" stroke-width="0.35"/>
<circle cx="575.7" cy="60.5" r="1" fill="#8a9a8a" stroke="#555" stroke-width="0.35"/>
<circle cx="587.0" cy="54.5" r="1" fill="#8a9a8a" stroke="#555" stroke-width="0.35"/>
<circle cx="562.6" cy="68.5" r="1" fill="#8a9a8a" stroke="#555" stroke-width="0.35"/>
<circle cx="581.7" cy="73.7" r="1" fill="#8a9a8a" stroke="#555" stroke-width="0.35"/>
<circle cx="593.0" cy="67.9" r="1" fill="#8a9a8a" stroke="#555" stroke-width="0.35"/>
<circle cx="570.4" cy="80.5" r="1" fill="#8a9a8a" stroke="#555" stroke-width="0.35"/>
<circle cx="558.6" cy="84.8" r="1" fill="#8a9a8a" stroke="#555" stroke-width="0.35"/>
<circle cx="576.5" cy="91.4" r="1" fill="#8a9a8a" stroke="#555" stroke-width="0.35"/>
<circle cx="586.4" cy="85.3" r="1" fill="#8a9a8a" stroke="#555" stroke-width="0.35"/>
<circle cx="566.1" cy="94.5" r="1" fill="#8a9a8a" stroke="#555" stroke-width="0.35"/>
<circle cx="550.4" cy="46.2" r="1" fill="#8a9a8a" stroke="#555" stroke-width="0.35"/>
<circle cx="547.0" cy="63.6" r="1" fill="#8a9a8a" stroke="#555" stroke-width="0.35"/>
<circle cx="552.2" cy="86.2" r="1" fill="#8a9a8a" stroke="#555" stroke-width="0.35"/>
<circle cx="540.9" cy="60.1" r="1" fill="#8a9a8a" stroke="#555" stroke-width="0.35"/>
<circle cx="543.5" cy="70.5" r="1" fill="#8a9a8a" stroke="#555" stroke-width="0.35"/>
<circle cx="546.1" cy="79.2" r="1" fill="#8a9a8a" stroke="#555" stroke-width="0.35"/>
<circle cx="596.5" cy="79.2" r="1" fill="#8a9a8a" stroke="#555" stroke-width="0.35"/>
<circle cx="572.2" cy="37.5" r="1" fill="#8a9a8a" stroke="#555" stroke-width="0.35"/>
<circle cx="562.6" cy="36.6" r="1" fill="#8a9a8a" stroke="#555" stroke-width="0.35"/>
<circle cx="562.6" cy="36.6" r="0.8" fill="#e8e8e8" stroke="#777" stroke-width="0.3"/>
<circle cx="575.7" cy="38.4" r="0.8" fill="#e8e8e8" stroke="#777" stroke-width="0.3"/>
<circle cx="586.1" cy="46.2" r="0.8" fill="#e8e8e8" stroke="#777" stroke-width="0.3"/>
<circle cx="593.0" cy="56.6" r="0.8" fill="#e8e8e8" stroke="#777" stroke-width="0.3"/>
<circle cx="596.5" cy="68.8" r="0.8" fill="#e8e8e8" stroke="#777" stroke-width="0.3"/>
<circle cx="596.5" cy="79.2" r="0.8" fill="#e8e8e8" stroke="#777" stroke-width="0.3"/>
<circle cx="591.3" cy="89.7" r="0.8" fill="#e8e8e8" stroke="#777" stroke-width="0.3"/>
<circle cx="582.6" cy="97.5" r="0.8" fill="#e8e8e8" stroke="#777" stroke-width="0.3"/>
<circle cx="572.2" cy="100.5" r="0.8" fill="#e8e8e8" stroke="#777" stroke-width="0.3"/>
<circle cx="563.5" cy="96.6" r="0.8" fill="#e8e8e8" stroke="#777" stroke-width="0.3"/>
<circle cx="554.8" cy="93.5" r="0.8" fill="#e8e8e8" stroke="#777" stroke-width="0.3"/>
<circle cx="548.7" cy="86.5" r="0.8" fill="#e8e8e8" stroke="#777" stroke-width="0.3"/>
<circle cx="544.3" cy="79.2" r="0.8" fill="#e8e8e8" stroke="#777" stroke-width="0.3"/>
<circle cx="541.7" cy="70.5" r="0.8" fill="#e8e8e8" stroke="#777" stroke-width="0.3"/>
<circle cx="540.0" cy="60.1" r="0.8" fill="#e8e8e8" stroke="#777" stroke-width="0.3"/>
<circle cx="542.6" cy="49.7" r="0.8" fill="#e8e8e8" stroke="#777" stroke-width="0.3"/>
<circle cx="548.7" cy="42.7" r="0.8" fill="#e8e8e8" stroke="#777" stroke-width="0.3"/>
<circle cx="554.8" cy="38.4" r="0.8" fill="#e8e8e8" stroke="#777" stroke-width="0.3"/>
<ellipse cx="546.1" cy="88.8" rx="1.6" ry="3.2" fill="#a8e030" transform="rotate(15 546.1 88.8)"/>
<path d="M540.9 92.3L550.4 75.4" stroke="#444" stroke-width="0.5"/>
<path d="M552.2 72.3L548.3 75.4L553.4 76.6Z" fill="#111"/>
<text x="530.4" y="104.6" font-size="9.6" font-weight="bold" fill="#111" text-anchor="start" textLength="12.2" lengthAdjust="spacingAndGlyphs" >C3</text>
<path d="M553.0 199.0 C554.2 198.7 560.3 202.0 563.5 201.9 C566.7 201.8 569.4 200.2 572.2 198.4 C574.9 196.6 579.0 191.2 580.0 191.1 C581.0 191.0 579.7 195.8 578.3 197.7 C576.8 199.7 573.9 201.6 571.3 203.0 C568.7 204.3 565.1 205.9 562.6 205.9 C560.1 206.0 558.1 204.5 556.5 203.3 C554.9 202.1 551.9 199.2 553.0 199.0Z" fill="#7a2812"/>
<g clip-path="url(#h2)">
<rect x="528" y="135" width="70" height="80" fill="#f0e42c"/>
<g filter="url(#b2)">
<ellipse cx="560.9" cy="142.8" rx="34.8" ry="8.3" fill="#4cc444" opacity="1" transform="rotate(6 560.9 142.8)"/>
<ellipse cx="541.7" cy="149.4" rx="10.8" ry="3.5" fill="#38a8e0" opacity="1" transform="rotate(-42 541.7 149.4)"/>
<ellipse cx="540.5" cy="148.0" rx="7.0" ry="1.7" fill="#3060d8" opacity="1" transform="rotate(-42 540.5 148.0)"/>
<ellipse cx="563.5" cy="144.5" rx="12.2" ry="2.4" fill="#40b8d8" opacity="1" transform="rotate(8 563.5 144.5)"/>
<ellipse cx="561.7" cy="143.5" rx="7.0" ry="1.4" fill="#3070d8" opacity="1" transform="rotate(8 561.7 143.5)"/>
<ellipse cx="573.9" cy="147.3" rx="7.0" ry="2.4" fill="#40c0c8" opacity="1" transform="rotate(30 573.9 147.3)"/>
<ellipse cx="561.7" cy="197.2" rx="26.1" ry="8.3" fill="#50c440" opacity="1" transform="rotate(-5 561.7 197.2)"/>
<ellipse cx="533.6" cy="173.7" rx="3.1" ry="13.9" fill="#58c840" opacity="1" transform="rotate(12 533.6 173.7)"/>
<ellipse cx="587.0" cy="171.1" rx="2.8" ry="15.7" fill="#58c840" opacity="1" transform="rotate(0 587.0 171.1)"/>
<ellipse cx="557.4" cy="169.4" rx="18.3" ry="15.7" fill="#f4e82a" opacity="1" transform="rotate(0 557.4 169.4)"/>
<ellipse cx="540.5" cy="177.6" rx="5.2" ry="8.3" fill="#f0a028" opacity="1" transform="rotate(12 540.5 177.6)"/>
<ellipse cx="539.5" cy="178.6" rx="2.8" ry="4.9" fill="#f08820" opacity="1" transform="rotate(12 539.5 178.6)"/>
<ellipse cx="575.0" cy="171.1" rx="10.1" ry="12.9" fill="#ee7a1e" opacity="1" transform="rotate(18 575.0 171.1)"/>
<ellipse cx="575.3" cy="170.6" rx="8.7" ry="11.1" fill="#e4441a" opacity="1" transform="rotate(18 575.3 170.6)"/>
<ellipse cx="576.0" cy="169.9" rx="7.0" ry="9.0" fill="#d82818" opacity="1" transform="rotate(18 576.0 169.9)"/>
</g>
<path d="M560.0 139.8 C564.1 139.5 568.7 140.8 572.2 142.4 C575.7 144.0 578.4 146.5 580.9 149.4 C583.3 152.3 585.7 156.1 587.0 159.8 C588.2 163.6 588.6 168.2 588.2 172.0 C587.8 175.8 586.2 179.2 584.7 182.4 C583.2 185.6 581.2 188.5 579.1 191.1 C577.0 193.7 574.8 196.3 572.2 198.1 C569.6 199.8 566.7 201.4 563.5 201.6 C560.3 201.7 556.5 200.4 553.0 199.0 C549.6 197.5 545.5 195.3 542.6 192.9 C539.7 190.4 537.4 187.4 535.7 184.2 C533.9 181.0 532.5 177.2 532.2 173.7 C531.9 170.3 532.8 166.8 533.9 163.3 C535.1 159.8 536.8 156.1 539.1 152.9 C541.4 149.7 544.3 146.3 547.8 144.2 C551.3 142.0 555.9 140.1 560.0 139.8Z" fill="none" stroke="#7a3a18" stroke-width="1.4" opacity="0.45" filter="url(#b1)"/>
</g>
<circle cx="562.6" cy="148.5" r="1" fill="#8a9a8a" stroke="#555" stroke-width="0.35"/>
<circle cx="572.2" cy="155.0" r="1" fill="#8a9a8a" stroke="#555" stroke-width="0.35"/>
<circle cx="553.9" cy="158.4" r="1" fill="#8a9a8a" stroke="#555" stroke-width="0.35"/>
<circle cx="565.6" cy="165.9" r="1" fill="#8a9a8a" stroke="#555" stroke-width="0.35"/>
<circle cx="580.9" cy="163.7" r="1" fill="#8a9a8a" stroke="#555" stroke-width="0.35"/>
<circle cx="546.4" cy="169.9" r="1" fill="#8a9a8a" stroke="#555" stroke-width="0.35"/>
<circle cx="557.9" cy="177.2" r="1" fill="#8a9a8a" stroke="#555" stroke-width="0.35"/>
<circle cx="541.2" cy="182.8" r="1" fill="#8a9a8a" stroke="#555" stroke-width="0.35"/>
<circle cx="568.3" cy="183.3" r="1" fill="#8a9a8a" stroke="#555" stroke-width="0.35"/>
<circle cx="550.4" cy="188.5" r="1" fill="#8a9a8a" stroke="#555" stroke-width="0.35"/>
<circle cx="575.7" cy="187.3" r="1" fill="#8a9a8a" stroke="#555" stroke-width="0.35"/>
<circle cx="560.9" cy="192.9" r="1" fill="#8a9a8a" stroke="#555" stroke-width="0.35"/>
<circle cx="542.6" cy="152.9" r="1" fill="#8a9a8a" stroke="#555" stroke-width="0.35"/>
<circle cx="577.4" cy="148.5" r="1" fill="#8a9a8a" stroke="#555" stroke-width="0.35"/>
<circle cx="587.0" cy="159.8" r="1" fill="#8a9a8a" stroke="#555" stroke-width="0.35"/>
<circle cx="535.7" cy="184.2" r="1" fill="#8a9a8a" stroke="#555" stroke-width="0.35"/>
<circle cx="572.2" cy="198.1" r="1" fill="#8a9a8a" stroke="#555" stroke-width="0.35"/>
<circle cx="553.0" cy="199.0" r="1" fill="#8a9a8a" stroke="#555" stroke-width="0.35"/>
<circle cx="532.2" cy="173.7" r="1" fill="#8a9a8a" stroke="#555" stroke-width="0.35"/>
<circle cx="547.8" cy="144.2" r="1" fill="#8a9a8a" stroke="#555" stroke-width="0.35"/>
<circle cx="560.0" cy="139.8" r="1" fill="#8a9a8a" stroke="#555" stroke-width="0.35"/>
<circle cx="581.2" cy="181.6" r="1" fill="#8a9a8a" stroke="#555" stroke-width="0.35"/>
<circle cx="560.0" cy="139.8" r="0.8" fill="#e8e8e8" stroke="#777" stroke-width="0.3"/>
<circle cx="572.2" cy="142.4" r="0.8" fill="#e8e8e8" stroke="#777" stroke-width="0.3"/>
<circle cx="580.9" cy="149.4" r="0.8" fill="#e8e8e8" stroke="#777" stroke-width="0.3"/>
<circle cx="587.0" cy="159.8" r="0.8" fill="#e8e8e8" stroke="#777" stroke-width="0.3"/>
<circle cx="588.2" cy="172.0" r="0.8" fill="#e8e8e8" stroke="#777" stroke-width="0.3"/>
<circle cx="584.7" cy="182.4" r="0.8" fill="#e8e8e8" stroke="#777" stroke-width="0.3"/>
<circle cx="579.1" cy="191.1" r="0.8" fill="#e8e8e8" stroke="#777" stroke-width="0.3"/>
<circle cx="572.2" cy="198.1" r="0.8" fill="#e8e8e8" stroke="#777" stroke-width="0.3"/>
<circle cx="563.5" cy="201.6" r="0.8" fill="#e8e8e8" stroke="#777" stroke-width="0.3"/>
<circle cx="553.0" cy="199.0" r="0.8" fill="#e8e8e8" stroke="#777" stroke-width="0.3"/>
<circle cx="542.6" cy="192.9" r="0.8" fill="#e8e8e8" stroke="#777" stroke-width="0.3"/>
<circle cx="535.7" cy="184.2" r="0.8" fill="#e8e8e8" stroke="#777" stroke-width="0.3"/>
<circle cx="532.2" cy="173.7" r="0.8" fill="#e8e8e8" stroke="#777" stroke-width="0.3"/>
<circle cx="533.9" cy="163.3" r="0.8" fill="#e8e8e8" stroke="#777" stroke-width="0.3"/>
<circle cx="539.1" cy="152.9" r="0.8" fill="#e8e8e8" stroke="#777" stroke-width="0.3"/>
<circle cx="547.8" cy="144.2" r="0.8" fill="#e8e8e8" stroke="#777" stroke-width="0.3"/>
<ellipse cx="580.0" cy="190.3" rx="1.8" ry="3.4" fill="#f0e030" transform="rotate(-10 580.0 190.3)"/>
<path d="M591.3 189.4L578.3 174.6" stroke="#444" stroke-width="0.5"/>
<path d="M574.3 171.7L580.0 173.0L576.5 176.3Z" fill="#111"/>
<text x="589.5" y="201.3" font-size="9.6" font-weight="bold" fill="#111" text-anchor="start" textLength="12.2" lengthAdjust="spacingAndGlyphs" >C4</text>
<rect x="528.4" y="215.4" width="64.7" height="3" fill="url(#cb)"/>
<text x="514.5" y="228.2" font-size="9.8" font-weight="normal" fill="#111" text-anchor="start" textLength="24.7" lengthAdjust="spacingAndGlyphs" stroke="#111" stroke-width="0.3">−0.25</text>
<text x="543.7" y="228.2" font-size="9.8" font-weight="normal" fill="#111" text-anchor="start" stroke="#111" stroke-width="0.3">0</text>
<text x="550.3" y="228.2" font-size="9.8" fill="#111" textLength="31" lengthAdjust="spacingAndGlyphs" stroke="#111" stroke-width="0.3">µV/cm<tspan font-size="6.4" dy="-3.6">2</tspan></text>
<text x="588.2" y="228.2" font-size="9.8" font-weight="normal" fill="#111" text-anchor="start" textLength="18.4" lengthAdjust="spacingAndGlyphs" stroke="#111" stroke-width="0.3">0.25</text>
<text x="614.2" y="64.2" font-size="11" font-weight="normal" fill="#2a2a2a" text-anchor="start" textLength="59.3" lengthAdjust="spacingAndGlyphs" >activation of</text>
<text x="616.5" y="76.9" font-size="11" font-weight="normal" fill="#2a2a2a" text-anchor="start" textLength="58" lengthAdjust="spacingAndGlyphs" >correct hand</text>
<text x="616" y="171.2" font-size="11" font-weight="normal" fill="#2a2a2a" text-anchor="start" textLength="55.5" lengthAdjust="spacingAndGlyphs" >inhibition of</text>
<text x="616" y="184.5" font-size="11" font-weight="normal" fill="#2a2a2a" text-anchor="start" textLength="67.7" lengthAdjust="spacingAndGlyphs" >incorrect hand</text>
</g>
<g id="panel-c">
<text x="95" y="344" font-size="14" font-weight="normal" fill="#1a1a1a" text-anchor="start" textLength="17" lengthAdjust="spacingAndGlyphs" >(c)</text>
<text x="252" y="330.4" font-size="12.3" font-weight="bold" fill="#111" text-anchor="start" textLength="172.7" lengthAdjust="spacingAndGlyphs" >During response execution</text>
<defs><filter id="b15" x="-10%" y="-30%" width="120%" height="160%"><feGaussianBlur stdDeviation="1.5"/></filter></defs>
<clipPath id="hc1"><rect x="124.3" y="352.4" width="184.3" height="94.90000000000003"/></clipPath>
<g clip-path="url(#hc1)">
<rect x="124.3" y="352.4" width="184.3" height="94.90000000000003" fill="#72d47e"/>
<g filter="url(#b3)">
<ellipse cx="207.7" cy="402.0" rx="6.2" ry="19.3" fill="#5ecc50" opacity="0.75"/>
<ellipse cx="281.9" cy="375.8" rx="5.7" ry="19.5" fill="#5ecc50" opacity="0.75"/>
<ellipse cx="270.4" cy="369.1" rx="3.7" ry="11.8" fill="#66d25a" opacity="0.75"/>
<ellipse cx="241.2" cy="404.5" rx="4.1" ry="19.1" fill="#66d25a" opacity="0.75"/>
<ellipse cx="237.7" cy="373.5" rx="2.6" ry="20.6" fill="#86deb0" opacity="0.75"/>
<ellipse cx="130.9" cy="424.6" rx="4.9" ry="25.6" fill="#80dca8" opacity="0.75"/>
<ellipse cx="205.5" cy="421.9" rx="4.6" ry="22.8" fill="#62d056" opacity="0.75"/>
<ellipse cx="125.1" cy="368.4" rx="5.1" ry="18.1" fill="#5ecc50" opacity="0.75"/>
<ellipse cx="307.8" cy="421.8" rx="5.3" ry="16.3" fill="#8ae2b8" opacity="0.75"/>
<ellipse cx="218.8" cy="364.5" rx="4.8" ry="12.2" fill="#86deb0" opacity="0.75"/>
<ellipse cx="280.3" cy="389.7" rx="6.3" ry="26.9" fill="#86deb0" opacity="0.75"/>
<ellipse cx="163.6" cy="427.9" rx="2.7" ry="17.5" fill="#66d25a" opacity="0.75"/>
<ellipse cx="197.5" cy="367.6" rx="5.0" ry="25.6" fill="#80dca8" opacity="0.75"/>
<ellipse cx="186.4" cy="384.4" rx="2.6" ry="18.2" fill="#86deb0" opacity="0.75"/>
<ellipse cx="149.1" cy="412.4" rx="2.5" ry="19.3" fill="#62d056" opacity="0.75"/>
<ellipse cx="157.0" cy="401.9" rx="4.3" ry="13.8" fill="#66d25a" opacity="0.75"/>
<ellipse cx="266.1" cy="392.0" rx="4.0" ry="17.9" fill="#8ae2b8" opacity="0.75"/>
<ellipse cx="124.4" cy="423.5" rx="6.4" ry="21.9" fill="#86deb0" opacity="0.75"/>
<ellipse cx="163.1" cy="390.3" rx="5.9" ry="22.8" fill="#86deb0" opacity="0.75"/>
<ellipse cx="132.1" cy="372.7" rx="4.3" ry="10.2" fill="#5ecc50" opacity="0.75"/>
<ellipse cx="184.9" cy="383.3" rx="2.8" ry="11.8" fill="#5ecc50" opacity="0.75"/>
<ellipse cx="241.6" cy="363.5" rx="4.0" ry="22.4" fill="#8ae2b8" opacity="0.75"/>
<ellipse cx="301.1" cy="396.6" rx="4.8" ry="27.3" fill="#8ae2b8" opacity="0.75"/>
<ellipse cx="239.9" cy="384.4" rx="3.4" ry="22.2" fill="#66d25a" opacity="0.75"/>
<ellipse cx="159.3" cy="414.7" rx="6.3" ry="13.9" fill="#62d056" opacity="0.75"/>
<ellipse cx="286.9" cy="405.0" rx="4.2" ry="12.1" fill="#86deb0" opacity="0.75"/>
<ellipse cx="218.7" cy="380.4" rx="5.5" ry="17.8" fill="#62d056" opacity="0.75"/>
<ellipse cx="276.1" cy="404.5" rx="3.7" ry="13.5" fill="#66d25a" opacity="0.75"/>
<ellipse cx="304.4" cy="371.3" rx="4.4" ry="23.1" fill="#5ecc50" opacity="0.75"/>
<ellipse cx="237.5" cy="382.2" rx="6.2" ry="14.1" fill="#86deb0" opacity="0.75"/>
<ellipse cx="137.0" cy="391.5" rx="3.5" ry="10.9" fill="#80dca8" opacity="0.75"/>
<ellipse cx="192.3" cy="402.8" rx="3.0" ry="17.2" fill="#62d056" opacity="0.75"/>
<ellipse cx="305.0" cy="408.8" rx="5.3" ry="21.7" fill="#8ae2b8" opacity="0.75"/>
<ellipse cx="233.0" cy="427.7" rx="4.4" ry="17.1" fill="#80dca8" opacity="0.75"/>
<ellipse cx="301.7" cy="363.9" rx="5.0" ry="19.6" fill="#66d25a" opacity="0.75"/>
<ellipse cx="181.6" cy="372.1" rx="2.8" ry="19.1" fill="#80dca8" opacity="0.75"/>
<ellipse cx="260.1" cy="426.0" rx="5.4" ry="24.1" fill="#80dca8" opacity="0.75"/>
<ellipse cx="189.1" cy="410.8" rx="6.1" ry="27.4" fill="#62d056" opacity="0.75"/>
<ellipse cx="298.3" cy="364.5" rx="4.5" ry="10.3" fill="#66d25a" opacity="0.75"/>
<ellipse cx="194.8" cy="403.6" rx="4.9" ry="11.6" fill="#66d25a" opacity="0.75"/>
<ellipse cx="145.6" cy="380.6" rx="4.2" ry="16.6" fill="#66d25a" opacity="0.75"/>
<ellipse cx="252.2" cy="394.7" rx="4.4" ry="20.8" fill="#5ecc50" opacity="0.75"/>
<ellipse cx="262.6" cy="364.5" rx="4.9" ry="19.6" fill="#8ae2b8" opacity="0.75"/>
<ellipse cx="300.7" cy="370.4" rx="5.6" ry="23.2" fill="#62d056" opacity="0.75"/>
<ellipse cx="171.4" cy="363.2" rx="3.7" ry="23.6" fill="#8ae2b8" opacity="0.75"/>
<ellipse cx="219.8" cy="415.7" rx="3.9" ry="28.6" fill="#62d056" opacity="0.75"/>
<rect x="119.3" y="346.4" width="194.3" height="14" fill="#62d054" opacity="0.95"/>
<ellipse cx="225.6" cy="395.1" rx="16" ry="30" fill="#60ce54" opacity="0.9"/>
</g>
<path d="M116.3 451.3 L124.0 445.7 C125.2 445.6 126.4 445.8 131.4 444.9 C136.5 444.0 146.7 442.5 154.3 440.6 C161.9 438.7 171.0 435.3 177.2 433.5 C183.3 431.7 187.0 431.9 191.2 429.9 C195.4 427.9 198.9 424.8 202.3 421.5 C205.7 418.2 209.2 413.9 211.7 410.3 C214.2 406.7 215.5 403.5 217.2 400.1 C218.9 396.7 220.5 392.5 221.9 389.9 C223.3 387.3 224.4 384.9 225.6 384.3 C226.8 383.7 228.1 384.9 229.3 386.1 C230.6 387.3 231.7 389.2 233.1 391.7 C234.5 394.2 235.8 398.1 237.7 401.0 C239.5 403.9 241.4 407.2 244.2 409.4 C247.0 411.6 250.6 412.7 254.5 414.1 C258.4 415.5 262.7 416.0 267.5 417.8 C272.3 419.6 278.1 423.0 283.1 424.9 C288.1 426.8 293.3 427.8 297.4 429.2 C301.4 430.6 305.0 432.5 307.4 433.5 C309.8 434.5 311.2 434.9 312.0 435.2 L316.6 451.3Z" fill="#a4de4c" filter="url(#b15)" opacity="0.75"/>
<path d="M116.3 451.3 L124.0 447.0 C125.2 446.9 126.4 447.1 131.4 446.2 C136.5 445.3 146.7 443.8 154.3 441.9 C161.9 440.0 171.0 436.6 177.2 434.8 C183.3 433.0 187.0 433.2 191.2 431.2 C195.4 429.2 198.9 426.1 202.3 422.8 C205.7 419.5 209.2 415.2 211.7 411.6 C214.2 408.0 215.5 404.8 217.2 401.4 C218.9 398.0 220.5 393.8 221.9 391.2 C223.3 388.6 224.4 386.2 225.6 385.6 C226.8 385.0 228.1 386.2 229.3 387.4 C230.6 388.6 231.7 390.5 233.1 393.0 C234.5 395.5 235.8 399.4 237.7 402.3 C239.5 405.2 241.4 408.5 244.2 410.7 C247.0 412.9 250.6 414.0 254.5 415.4 C258.4 416.8 262.7 417.3 267.5 419.1 C272.3 420.9 278.1 424.3 283.1 426.2 C288.1 428.1 293.3 429.1 297.4 430.5 C301.4 431.9 305.0 433.8 307.4 434.8 C309.8 435.8 311.2 436.2 312.0 436.5 L316.6 451.3Z" fill="#f4e426" filter="url(#b15)"/>
<path d="M116.3 451.3 L138.0 447.5 C139.3 447.4 140.2 447.8 145.8 446.7 C151.4 445.6 163.9 442.9 171.5 441.0 C179.1 439.1 186.1 437.4 191.2 435.4 C196.3 433.4 198.9 431.5 202.3 428.9 C205.7 426.3 209.2 422.7 211.7 419.6 C214.2 416.5 215.5 413.2 217.2 410.3 C218.9 407.4 220.3 404.2 221.9 401.9 C223.5 399.6 225.2 397.1 226.6 396.3 C228.0 395.5 229.1 396.3 230.3 397.2 C231.5 398.1 232.6 399.7 234.0 401.9 C235.4 404.1 236.8 408.0 238.7 410.3 C240.6 412.6 241.9 414.3 245.2 415.9 C248.4 417.4 254.2 418.4 258.2 419.6 C262.2 420.8 264.8 421.3 269.4 423.3 C274.0 425.3 281.3 429.4 286.0 431.5 C290.7 433.6 293.8 434.5 297.4 436.1 C301.0 437.7 305.0 439.9 307.4 441.0 C309.8 442.1 311.2 442.7 312.0 443.0 L316.6 451.3Z" fill="#f6a21c" filter="url(#b15)"/>
<path d="M116.3 451.3 L150.0 447.8 C151.2 447.7 152.7 447.9 157.2 447.0 C161.7 446.1 171.5 444.0 177.2 442.7 C182.9 441.4 187.0 440.7 191.2 439.4 C195.4 438.1 198.9 436.5 202.3 434.8 C205.7 433.1 209.2 431.1 211.7 429.2 C214.2 427.3 215.8 425.5 217.2 423.6 C218.6 421.7 218.9 419.6 220.0 418.0 C221.1 416.4 222.4 414.7 223.8 414.3 C225.2 413.9 226.7 415.8 228.4 415.8 C230.1 415.8 232.1 413.9 234.0 414.3 C235.9 414.7 237.4 417.1 239.6 418.0 C241.8 418.9 243.9 419.0 247.0 419.9 C250.1 420.8 254.5 422.4 258.2 423.6 C261.9 424.8 265.2 425.3 269.4 427.3 C273.5 429.3 278.9 433.4 283.1 435.6 C287.3 437.8 290.4 438.7 294.5 440.4 C298.6 442.1 304.5 444.5 307.4 445.6 C310.3 446.8 311.2 447.0 312.0 447.3 L316.6 451.3Z" fill="#ee4a1a" filter="url(#b15)"/>
<path d="M116.3 451.3 L150.0 449.5 C151.2 449.4 152.7 449.6 157.2 448.7 C161.7 447.8 171.5 445.7 177.2 444.4 C182.9 443.1 187.0 442.4 191.2 441.1 C195.4 439.8 198.9 438.2 202.3 436.5 C205.7 434.8 209.2 432.8 211.7 430.9 C214.2 429.0 215.8 427.2 217.2 425.3 C218.6 423.4 218.9 421.2 220.0 419.7 C221.1 418.1 222.4 416.4 223.8 416.0 C225.2 415.6 226.7 417.5 228.4 417.5 C230.1 417.5 232.1 415.6 234.0 416.0 C235.9 416.4 237.4 418.8 239.6 419.7 C241.8 420.6 243.9 420.7 247.0 421.6 C250.1 422.5 254.5 424.1 258.2 425.3 C261.9 426.5 265.2 427.0 269.4 429.0 C273.5 431.0 278.9 435.1 283.1 437.3 C287.3 439.5 290.4 440.4 294.5 442.1 C298.6 443.8 304.5 446.2 307.4 447.3 C310.3 448.4 311.2 448.7 312.0 449.0 L316.6 451.3Z" fill="#e42a1a" filter="url(#b1)"/>
</g>
<text x="131" y="365" font-size="11.3" font-weight="bold" fill="#7a5a7a" text-anchor="start" textLength="89" lengthAdjust="spacingAndGlyphs" opacity="0.85">Time Incompatible</text>
<clipPath id="hc2"><rect x="327.2" y="352.4" width="164.60000000000002" height="94.90000000000003"/></clipPath>
<g clip-path="url(#hc2)">
<rect x="327.2" y="352.4" width="164.60000000000002" height="94.90000000000003" fill="#72d47e"/>
<g filter="url(#b3)">
<ellipse cx="479.4" cy="429.4" rx="6.1" ry="11.7" fill="#5ecc50" opacity="0.75"/>
<ellipse cx="377.7" cy="389.2" rx="3.9" ry="24.5" fill="#80dca8" opacity="0.75"/>
<ellipse cx="400.4" cy="378.0" rx="4.3" ry="10.5" fill="#86deb0" opacity="0.75"/>
<ellipse cx="488.7" cy="397.6" rx="2.6" ry="22.6" fill="#62d056" opacity="0.75"/>
<ellipse cx="386.3" cy="366.5" rx="5.6" ry="21.8" fill="#66d25a" opacity="0.75"/>
<ellipse cx="355.5" cy="377.7" rx="5.4" ry="21.3" fill="#80dca8" opacity="0.75"/>
<ellipse cx="486.6" cy="382.3" rx="6.4" ry="21.5" fill="#62d056" opacity="0.75"/>
<ellipse cx="356.4" cy="396.5" rx="5.7" ry="23.5" fill="#8ae2b8" opacity="0.75"/>
<ellipse cx="357.2" cy="375.0" rx="3.8" ry="26.3" fill="#8ae2b8" opacity="0.75"/>
<ellipse cx="423.0" cy="368.2" rx="4.2" ry="21.4" fill="#5ecc50" opacity="0.75"/>
<ellipse cx="373.4" cy="404.1" rx="2.9" ry="28.0" fill="#5ecc50" opacity="0.75"/>
<ellipse cx="377.4" cy="417.3" rx="4.7" ry="15.2" fill="#86deb0" opacity="0.75"/>
<ellipse cx="429.2" cy="370.8" rx="5.7" ry="19.9" fill="#80dca8" opacity="0.75"/>
<ellipse cx="417.0" cy="427.3" rx="4.9" ry="28.9" fill="#8ae2b8" opacity="0.75"/>
<ellipse cx="401.2" cy="364.8" rx="5.0" ry="17.9" fill="#8ae2b8" opacity="0.75"/>
<ellipse cx="460.5" cy="411.0" rx="6.4" ry="26.1" fill="#86deb0" opacity="0.75"/>
<ellipse cx="415.9" cy="432.2" rx="5.5" ry="16.9" fill="#62d056" opacity="0.75"/>
<ellipse cx="408.0" cy="365.0" rx="3.6" ry="21.0" fill="#62d056" opacity="0.75"/>
<ellipse cx="483.6" cy="377.7" rx="2.9" ry="20.6" fill="#8ae2b8" opacity="0.75"/>
<ellipse cx="440.9" cy="401.8" rx="3.5" ry="12.0" fill="#8ae2b8" opacity="0.75"/>
<ellipse cx="475.5" cy="393.8" rx="3.9" ry="27.8" fill="#8ae2b8" opacity="0.75"/>
<ellipse cx="474.5" cy="411.0" rx="4.2" ry="23.9" fill="#66d25a" opacity="0.75"/>
<ellipse cx="449.9" cy="401.0" rx="4.2" ry="16.0" fill="#5ecc50" opacity="0.75"/>
<ellipse cx="427.6" cy="366.0" rx="3.6" ry="10.5" fill="#8ae2b8" opacity="0.75"/>
<ellipse cx="381.9" cy="401.9" rx="5.8" ry="15.0" fill="#66d25a" opacity="0.75"/>
<ellipse cx="340.1" cy="402.1" rx="4.7" ry="14.7" fill="#5ecc50" opacity="0.75"/>
<ellipse cx="484.8" cy="418.9" rx="6.5" ry="15.4" fill="#80dca8" opacity="0.75"/>
<ellipse cx="389.3" cy="417.9" rx="3.1" ry="27.3" fill="#8ae2b8" opacity="0.75"/>
<ellipse cx="457.8" cy="364.5" rx="5.1" ry="24.9" fill="#86deb0" opacity="0.75"/>
<ellipse cx="396.3" cy="382.0" rx="4.9" ry="29.8" fill="#66d25a" opacity="0.75"/>
<ellipse cx="418.7" cy="399.6" rx="3.7" ry="28.0" fill="#86deb0" opacity="0.75"/>
<ellipse cx="364.5" cy="366.8" rx="6.1" ry="17.5" fill="#86deb0" opacity="0.75"/>
<ellipse cx="438.0" cy="405.2" rx="3.7" ry="16.4" fill="#80dca8" opacity="0.75"/>
<ellipse cx="459.7" cy="381.7" rx="6.2" ry="13.2" fill="#86deb0" opacity="0.75"/>
<ellipse cx="396.3" cy="420.1" rx="4.4" ry="21.1" fill="#80dca8" opacity="0.75"/>
<ellipse cx="415.9" cy="411.2" rx="4.0" ry="27.9" fill="#8ae2b8" opacity="0.75"/>
<ellipse cx="409.9" cy="370.2" rx="4.4" ry="12.4" fill="#5ecc50" opacity="0.75"/>
<ellipse cx="453.9" cy="362.9" rx="2.6" ry="25.7" fill="#86deb0" opacity="0.75"/>
<ellipse cx="368.0" cy="431.8" rx="5.0" ry="10.9" fill="#86deb0" opacity="0.75"/>
<ellipse cx="372.6" cy="388.0" rx="3.1" ry="26.7" fill="#86deb0" opacity="0.75"/>
<ellipse cx="356.9" cy="398.4" rx="4.9" ry="17.2" fill="#86deb0" opacity="0.75"/>
<ellipse cx="430.0" cy="411.6" rx="4.9" ry="10.8" fill="#86deb0" opacity="0.75"/>
<ellipse cx="477.3" cy="375.3" rx="2.6" ry="22.2" fill="#8ae2b8" opacity="0.75"/>
<ellipse cx="480.6" cy="383.2" rx="6.1" ry="15.9" fill="#86deb0" opacity="0.75"/>
<ellipse cx="462.4" cy="405.0" rx="4.9" ry="16.5" fill="#8ae2b8" opacity="0.75"/>
<ellipse cx="384.9" cy="373.7" rx="3.4" ry="29.3" fill="#80dca8" opacity="0.75"/>
<rect x="322.2" y="346.4" width="174.60000000000002" height="14" fill="#62d054" opacity="0.95"/>
<ellipse cx="410.2" cy="395.1" rx="16" ry="30" fill="#60ce54" opacity="0.9"/>
</g>
<path d="M319.2 451.3 L322.0 445.7 C323.1 445.3 323.2 445.1 328.6 443.5 C334.0 441.9 346.7 439.2 354.3 436.3 C361.9 433.4 368.6 430.5 374.4 426.3 C380.2 422.1 385.3 415.4 389.3 411.2 C393.3 407.0 396.1 404.6 398.6 401.0 C401.1 397.4 402.6 393.6 404.2 389.9 C405.8 386.2 406.9 381.6 407.9 378.7 C408.9 375.8 409.4 372.2 410.2 372.2 C411.0 372.2 411.7 375.8 412.6 378.7 C413.5 381.6 414.3 386.2 415.4 389.9 C416.5 393.6 417.2 398.1 419.1 401.0 C421.0 403.9 423.8 406.1 426.6 407.5 C429.4 408.9 432.8 408.9 435.9 409.4 C439.0 409.9 442.1 409.8 445.2 410.3 C448.3 410.8 451.7 411.3 454.5 412.2 C457.3 413.1 459.7 414.3 461.9 415.9 C464.1 417.4 466.2 419.6 467.5 421.5 C468.8 423.4 468.5 424.9 469.4 427.1 C470.3 429.3 471.3 432.8 473.1 434.5 C474.9 436.2 476.2 436.3 480.0 437.2 C483.8 438.1 493.3 439.3 496.0 439.7 L499.8 451.3Z" fill="#a4de4c" filter="url(#b15)" opacity="0.75"/>
<path d="M319.2 451.3 L322.0 447.0 C323.1 446.6 323.2 446.4 328.6 444.8 C334.0 443.2 346.7 440.5 354.3 437.6 C361.9 434.7 368.6 431.8 374.4 427.6 C380.2 423.4 385.3 416.7 389.3 412.5 C393.3 408.3 396.1 405.9 398.6 402.3 C401.1 398.8 402.6 394.9 404.2 391.2 C405.8 387.5 406.9 382.9 407.9 380.0 C408.9 377.1 409.4 373.5 410.2 373.5 C411.0 373.5 411.7 377.1 412.6 380.0 C413.5 382.9 414.3 387.5 415.4 391.2 C416.5 394.9 417.2 399.4 419.1 402.3 C421.0 405.2 423.8 407.4 426.6 408.8 C429.4 410.2 432.8 410.2 435.9 410.7 C439.0 411.2 442.1 411.1 445.2 411.6 C448.3 412.1 451.7 412.6 454.5 413.5 C457.3 414.4 459.7 415.6 461.9 417.2 C464.1 418.8 466.2 420.9 467.5 422.8 C468.8 424.7 468.5 426.2 469.4 428.4 C470.3 430.6 471.3 434.1 473.1 435.8 C474.9 437.5 476.2 437.6 480.0 438.5 C483.8 439.4 493.3 440.6 496.0 441.0 L499.8 451.3Z" fill="#f4e426" filter="url(#b15)"/>
<path d="M319.2 451.3 L334.0 447.5 C335.0 447.1 335.2 446.9 340.0 445.3 C344.8 443.7 356.2 440.8 362.9 438.1 C369.6 435.4 375.6 432.0 380.0 428.9 C384.4 425.8 386.2 422.7 389.3 419.6 C392.4 416.5 396.1 413.1 398.6 410.3 C401.1 407.5 402.6 405.3 404.2 402.8 C405.8 400.3 406.8 397.2 407.9 395.4 C409.0 393.5 409.8 391.1 410.7 391.7 C411.6 392.3 412.4 396.3 413.5 399.1 C414.6 401.9 415.0 405.9 417.2 408.4 C419.4 410.9 423.5 412.8 426.6 414.0 C429.7 415.2 432.8 415.0 435.9 415.9 C439.0 416.8 442.4 418.1 445.2 419.6 C448.0 421.2 450.4 422.7 452.6 425.2 C454.8 427.7 455.7 432.0 458.2 434.5 C460.7 437.0 463.9 438.4 467.5 440.0 C471.1 441.6 475.2 443.0 480.0 443.8 C484.8 444.6 493.3 444.8 496.0 445.0 L499.8 451.3Z" fill="#f6a21c" filter="url(#b15)"/>
<path d="M319.2 451.3 L345.0 447.8 C346.1 447.4 347.6 446.9 351.5 445.6 C355.4 444.3 363.4 442.1 368.6 439.9 C373.9 437.8 379.2 435.1 383.0 432.7 C386.8 430.3 388.3 427.6 391.2 425.5 C394.1 423.4 397.7 421.0 400.5 419.9 C403.3 418.8 405.2 419.0 408.0 419.0 C410.8 419.0 413.8 419.3 417.2 419.9 C420.6 420.5 425.0 421.8 428.4 422.7 C431.8 423.6 435.2 424.1 437.7 425.5 C440.2 426.9 441.1 428.9 443.3 431.1 C445.5 433.3 448.3 436.6 450.8 438.5 C453.3 440.4 455.1 441.1 458.2 442.2 C461.3 443.3 465.8 444.2 469.4 445.0 C473.0 445.8 475.6 446.5 480.0 446.9 C484.4 447.3 493.3 447.5 496.0 447.6 L499.8 451.3Z" fill="#ee4a1a" filter="url(#b15)"/>
<path d="M319.2 451.3 L345.0 449.5 C346.1 449.1 347.6 448.6 351.5 447.3 C355.4 446.0 363.4 443.8 368.6 441.6 C373.9 439.5 379.2 436.8 383.0 434.4 C386.8 432.0 388.3 429.3 391.2 427.2 C394.1 425.1 397.7 422.7 400.5 421.6 C403.3 420.5 405.2 420.7 408.0 420.7 C410.8 420.7 413.8 421.0 417.2 421.6 C420.6 422.2 425.0 423.5 428.4 424.4 C431.8 425.3 435.2 425.8 437.7 427.2 C440.2 428.6 441.1 430.6 443.3 432.8 C445.5 435.0 448.3 438.4 450.8 440.2 C453.3 442.0 455.1 442.8 458.2 443.9 C461.3 445.0 465.8 445.9 469.4 446.7 C473.0 447.5 475.6 448.2 480.0 448.6 C484.4 449.0 493.3 449.2 496.0 449.3 L499.8 451.3Z" fill="#e42a1a" filter="url(#b1)"/>
</g>
<text x="334.3" y="365" font-size="11.3" font-weight="bold" fill="#7a5a7a" text-anchor="start" textLength="101.7" lengthAdjust="spacingAndGlyphs" opacity="0.85">Neutral Incompatible</text>
<path d="M309 352.8H327.5" stroke="#c8f0d0" stroke-width="0.8"/>
<path d="M124.5 352.4V451.5M121 447H309.3M216.7 447V451.5M308.8 352.4V451.5" stroke="#111" stroke-width="1.1" fill="none"/>
<path d="M121 430.3H124.5M121 409.3H124.5M121 388.3H124.5M121 367.3H124.5" stroke="#111" stroke-width="1.1"/>
<text x="119.6" y="450.6" font-size="10.1" font-weight="normal" fill="#111" text-anchor="end" stroke="#111" stroke-width="0.35">1</text>
<text x="119.6" y="433.90000000000003" font-size="10.1" font-weight="normal" fill="#111" text-anchor="end" stroke="#111" stroke-width="0.35">5</text>
<text x="119.6" y="412.90000000000003" font-size="10.1" font-weight="normal" fill="#111" text-anchor="end" stroke="#111" stroke-width="0.35">10</text>
<text x="119.6" y="391.90000000000003" font-size="10.1" font-weight="normal" fill="#111" text-anchor="end" stroke="#111" stroke-width="0.35">15</text>
<text x="119.6" y="370.90000000000003" font-size="10.1" font-weight="normal" fill="#111" text-anchor="end" stroke="#111" stroke-width="0.35">20</text>
<text transform="translate(97.3 403.6) rotate(-90)" font-size="10" fill="#111" text-anchor="middle" textLength="68" lengthAdjust="spacingAndGlyphs">Frequency (Hz)</text>
<text x="135.2" y="460.9" font-size="10.3" font-weight="normal" fill="#111" text-anchor="end" textLength="24.8" lengthAdjust="spacingAndGlyphs" stroke="#111" stroke-width="0.3">−500</text>
<text x="216.7" y="460.9" font-size="10.3" font-weight="normal" fill="#111" text-anchor="middle" stroke="#111" stroke-width="0.3">0</text>
<text x="308.8" y="460.9" font-size="10.3" font-weight="normal" fill="#111" text-anchor="middle" textLength="16.6" lengthAdjust="spacingAndGlyphs" stroke="#111" stroke-width="0.3">500</text>
<text x="145.5" y="475.8" font-size="11.2" font-weight="normal" fill="#111" text-anchor="start" textLength="143.7" lengthAdjust="spacingAndGlyphs" stroke="#111" stroke-width="0.3">Time from EMG onset (msec)</text>
<path d="M327 447H492M399.9 447V451.5M491.5 447V451.5" stroke="#111" stroke-width="1.1" fill="none"/>
<text x="399.9" y="460.9" font-size="10.3" font-weight="normal" fill="#111" text-anchor="middle" stroke="#111" stroke-width="0.3">0</text>
<text x="491.5" y="460.9" font-size="10.3" font-weight="normal" fill="#111" text-anchor="middle" textLength="16.6" lengthAdjust="spacingAndGlyphs" stroke="#111" stroke-width="0.3">500</text>
<text x="329.8" y="476.8" font-size="11.2" font-weight="normal" fill="#111" text-anchor="start" textLength="142" lengthAdjust="spacingAndGlyphs" stroke="#111" stroke-width="0.3">Time from EMG onset (msec)</text>
<rect x="217.6" y="434.5" width="54.7" height="12.2" fill="none" stroke="#fff8e8" stroke-width="0.9" stroke-dasharray="2.4 1.8"/>
<rect x="400.2" y="434.9" width="55" height="12.2" fill="none" stroke="#fff8e8" stroke-width="0.9" stroke-dasharray="2.4 1.8"/>
<text x="198.8" y="428.2" font-size="8.2" font-weight="normal" fill="#fff" text-anchor="start" textLength="67" lengthAdjust="spacingAndGlyphs" >delta phase-locking</text>
<ellipse cx="238" cy="442" rx="17" ry="1.5" fill="#b01810" opacity="0.6" filter="url(#b1)"/>
<rect x="512.8" y="354.9" width="3.2" height="97.4" fill="url(#cbv)"/>
<path d="M515.5 355.2H517.3M515.5 452H517.3" stroke="#222" stroke-width="0.5"/>
<text x="517.6" y="357" font-size="4.8" font-weight="bold" fill="#1a1a1a" text-anchor="start" >0.3</text>
<text x="517.8" y="454.6" font-size="4.8" font-weight="bold" fill="#1a1a1a" text-anchor="start" >0</text>
<text transform="translate(522.3 403.4) rotate(90)" font-size="5.2" font-weight="bold" fill="#1a1a1a" text-anchor="middle">ITPC</text>
</g></svg></body></html>
